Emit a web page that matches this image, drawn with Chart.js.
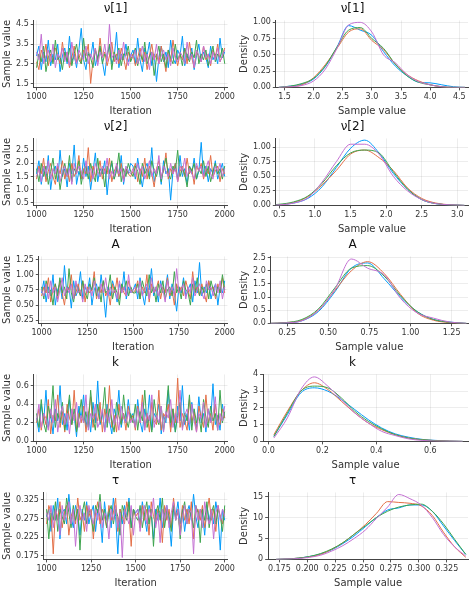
<!DOCTYPE html>
<html>
<head>
<meta charset="utf-8">
<script src="https://cdn.jsdelivr.net/npm/chart.js@4"></script>
<style>
body { margin: 0; background: #fff; }
canvas { position: absolute; }
</style>
</head>
<body>
<script>
const colors = ['#009AFA', '#E36F47', '#3EA44E', '#C371D2']
const titles = ['ν[1]', 'ν[2]', 'A', 'k', 'τ']
const iterStart = 1000, iterStep = 12.5

// trace samples (thinned), 4 chains per parameter
const nu1Trace = [
  [2.9,3.4,2.2,3.1,2.6,3.7,2.4,3.0,2.7,3.5,2.1,2.9,3.3,2.5,3.9,2.6,3.0,2.3,3.2,4.3,2.7,2.2,3.1,2.8,3.6,2.4,2.9,3.3,2.6,1.9,3.0,3.4,2.5,2.8,4.1,2.3,3.0,2.7,3.5,2.6,2.9,
   3.2,2.5,3.8,2.7,2.1,3.3,2.9,3.6,2.4,3.0,1.6,2.8,3.4,2.6,3.1,2.3,3.7,2.8,2.5,3.2,2.9,3.9,2.4,3.0,2.7,3.3,2.2,2.9,3.5,2.6,3.1,2.8,2.3,3.4,2.7,3.0,2.5,3.8,2.8,3.1],
  [2.6,2.2,3.2,2.8,3.5,2.4,3.0,2.6,3.3,2.9,2.5,3.6,2.7,3.1,2.3,2.8,3.4,2.6,3.0,2.5,3.2,2.9,3.5,1.5,2.7,3.3,2.6,3.8,2.8,3.1,2.4,2.9,3.6,2.6,3.0,2.5,3.3,2.8,2.2,3.1,2.7,
   3.0,2.4,2.8,3.3,2.6,3.1,2.2,2.9,3.5,2.7,3.0,2.5,3.4,2.8,2.1,3.2,2.6,3.7,2.9,2.4,3.0,2.7,3.3,2.5,3.6,2.8,2.3,3.1,2.9,2.6,3.4,2.7,3.0,2.4,3.2,2.8,3.5,2.6,2.9,3.3],
  [2.3,3.0,2.6,3.4,2.1,2.8,3.2,2.5,3.7,2.7,2.9,2.2,3.1,2.6,3.3,2.4,3.0,3.5,2.7,2.5,3.8,2.6,3.0,2.8,2.3,3.2,2.7,3.4,2.5,3.0,2.8,3.5,2.2,3.1,2.7,3.3,2.4,3.0,2.9,3.4,2.6,
   2.9,3.3,2.4,3.0,2.7,3.6,2.5,2.9,3.1,1.9,2.8,3.4,2.6,3.0,2.3,3.2,2.8,2.5,3.5,2.7,3.0,2.4,3.3,2.9,2.6,3.1,2.8,3.7,2.5,3.0,2.7,3.2,2.4,2.9,3.4,2.6,3.0,2.8,3.3,2.5],
  [3.1,2.7,4.0,2.5,2.9,3.2,2.6,3.5,2.3,3.0,2.8,3.3,2.6,3.1,2.4,3.6,2.8,2.5,3.2,2.9,2.7,3.4,2.5,3.0,2.7,3.3,2.4,3.1,2.8,3.5,2.6,4.5,2.8,3.0,2.5,3.2,2.7,3.6,2.8,2.4,3.0,
   2.8,3.2,2.5,2.9,3.4,2.6,3.0,2.2,3.1,2.7,3.5,2.5,2.9,3.2,2.7,3.0,2.4,3.3,2.8,2.6,3.1,2.9,2.5,3.6,2.7,3.0,2.3,3.2,2.9,2.6,3.4,2.8,3.0,2.5,3.1,2.7,3.3,2.6,2.9,3.2]
]
const nu2Trace = [
  [1.6,2.1,1.2,1.8,1.4,2.3,1.0,1.7,1.9,1.3,2.5,1.5,1.8,1.1,2.0,1.6,2.7,1.2,1.7,1.4,2.2,1.5,1.9,1.0,1.7,2.4,1.3,1.8,1.6,2.1,0.8,1.7,2.0,1.4,1.9,1.5,2.3,1.2,1.8,1.6,2.0,
   1.9,1.4,2.2,1.6,1.1,1.8,2.0,1.5,2.6,1.3,1.7,1.9,1.2,2.1,1.6,1.8,0.6,1.7,2.0,1.4,2.3,1.5,1.8,1.2,1.9,1.6,2.2,1.4,1.7,2.8,1.5,1.9,1.3,1.8,1.6,2.1,1.4,1.7,2.0,1.5],
  [1.4,1.9,1.6,2.2,1.3,1.7,2.0,1.5,1.2,1.9,1.6,2.1,1.4,1.8,1.3,2.0,1.5,1.7,2.3,1.4,1.8,1.6,2.6,1.3,1.9,1.5,1.7,2.1,1.4,1.8,1.6,2.2,1.3,1.7,1.9,1.5,2.0,1.4,1.8,1.6,1.5,
   1.7,2.0,1.3,1.8,1.5,2.2,1.4,1.9,1.6,1.1,1.8,2.1,1.5,1.7,2.4,1.4,1.8,1.6,2.0,1.3,1.7,1.9,1.5,2.2,1.6,1.8,1.2,1.9,1.7,2.0,1.4,1.8,1.6,2.3,1.5,1.7,1.9,1.3,1.8,1.6],
  [1.8,1.3,2.0,1.5,1.9,1.2,1.7,2.2,1.4,1.8,1.0,1.6,2.0,1.5,2.3,1.3,1.8,1.6,2.1,1.2,1.7,1.9,1.4,2.0,1.6,1.3,2.2,1.5,1.8,1.1,1.9,1.6,2.1,1.4,1.7,2.4,1.3,1.8,1.5,2.0,1.7,
   1.5,1.9,1.7,1.2,2.0,1.6,1.8,1.4,2.1,1.7,1.5,1.9,1.3,1.8,2.2,1.6,1.4,1.9,1.7,2.5,1.5,1.8,1.6,1.1,1.9,1.7,2.0,1.4,1.8,1.6,2.1,1.5,1.9,1.3,1.7,2.0,1.6,1.8,1.4,1.9],
  [1.5,1.8,1.3,1.9,1.6,2.1,1.4,1.8,1.6,2.0,1.3,1.7,1.9,1.5,1.8,1.2,2.0,1.6,1.9,1.7,1.4,2.1,1.6,1.8,1.4,2.0,1.7,1.5,1.9,1.6,2.2,1.4,1.7,1.5,2.0,1.6,1.8,1.3,1.9,1.7,1.6,
   1.8,1.5,2.0,1.6,1.9,1.4,1.7,2.1,1.5,1.8,1.6,2.3,1.4,1.9,1.7,1.5,2.0,1.6,1.8,1.3,1.9,1.7,2.2,1.5,1.8,1.6,1.4,2.0,1.7,1.9,1.5,1.8,2.1,1.6,1.4,1.9,1.7,2.0,1.5,1.8]
]
const aTrace = [
  [0.7,0.9,0.55,0.8,0.65,1.0,0.5,0.75,0.85,0.6,1.15,0.7,0.8,0.45,0.9,0.65,0.75,1.05,0.6,0.8,0.7,0.95,0.5,0.75,0.85,0.6,1.0,0.7,0.3,0.8,0.65,0.9,0.75,0.55,0.85,0.7,1.05,0.6,0.8,0.7,0.75,
   0.85,0.6,0.95,0.7,0.5,0.8,0.75,1.1,0.65,0.8,0.55,0.9,0.7,0.75,1.0,0.6,0.85,0.7,0.4,0.8,0.7,0.95,0.65,0.75,0.85,0.55,0.9,0.7,1.2,0.65,0.8,0.7,0.9,0.6,0.75,0.85,0.5,0.8,0.7,0.9],
  [0.65,0.8,0.7,0.95,0.55,0.75,0.85,0.6,0.9,0.7,0.5,0.8,0.75,1.0,0.6,0.7,0.85,0.65,0.9,0.55,0.8,0.7,0.75,1.05,0.6,0.8,0.7,0.9,0.65,0.75,0.5,0.85,0.7,0.95,0.6,0.8,0.7,0.65,0.9,0.75,0.7,
   0.75,0.9,0.6,0.8,0.7,1.0,0.55,0.85,0.7,0.75,0.9,0.6,0.8,0.7,0.95,0.65,0.75,0.5,0.85,0.7,0.8,0.65,0.9,0.75,0.6,1.05,0.7,0.8,0.65,0.85,0.7,0.55,0.9,0.75,0.8,0.6,0.85,0.7,0.95,0.7],
  [0.8,0.6,0.9,0.7,0.75,0.5,0.85,0.65,0.95,0.7,0.8,0.6,1.1,0.7,0.55,0.85,0.75,0.65,0.9,0.7,0.6,0.85,0.75,0.95,0.65,0.8,0.55,0.9,0.7,0.75,1.0,0.6,0.8,0.7,0.5,0.85,0.75,0.9,0.65,0.8,0.7,
   0.7,0.85,0.6,0.9,0.75,0.65,1.0,0.7,0.8,0.55,0.85,0.7,0.9,0.6,0.75,0.8,0.65,1.05,0.7,0.8,0.6,0.9,0.75,0.7,0.5,0.85,0.7,0.95,0.65,0.8,0.7,0.85,0.6,0.9,0.75,0.65,0.8,0.7,1.0,0.75],
  [0.75,0.65,0.85,0.6,0.9,0.7,0.8,0.55,0.75,0.95,0.65,0.8,0.7,0.85,0.6,0.9,0.7,0.75,0.55,0.85,0.7,0.8,0.65,0.9,0.75,0.6,0.85,0.7,0.95,0.65,0.8,0.7,0.75,0.6,0.9,0.7,0.8,0.65,1.0,0.7,0.75,
   0.8,0.7,0.9,0.65,0.75,0.85,0.6,0.95,0.7,0.8,0.65,0.85,0.75,0.55,0.9,0.7,0.8,0.65,1.1,0.7,0.75,0.85,0.6,0.8,0.7,0.95,0.65,0.75,0.85,0.7,0.6,0.9,0.75,0.8,0.65,0.85,0.7,0.9,0.6,0.8]
]
const kTrace = [
  [0.25,0.1,0.4,0.2,0.55,0.15,0.3,0.08,0.35,0.22,0.6,0.18,0.3,0.12,0.45,0.2,0.28,0.05,0.38,0.25,0.5,0.15,0.32,0.1,0.42,0.2,0.65,0.18,0.3,0.12,0.4,0.22,0.08,0.35,0.25,0.55,0.15,0.3,0.2,0.45,0.25,
   0.3,0.15,0.45,0.22,0.1,0.35,0.2,0.5,0.12,0.3,0.25,0.4,0.08,0.28,0.2,0.55,0.15,0.32,0.1,0.38,0.22,0.6,0.18,0.3,0.12,0.42,0.25,0.15,0.48,0.2,0.3,0.1,0.35,0.22,0.62,0.18,0.28,0.12,0.4,0.25],
  [0.2,0.35,0.12,0.3,0.18,0.45,0.08,0.28,0.22,0.5,0.15,0.32,0.1,0.4,0.25,0.18,0.55,0.12,0.3,0.2,0.38,0.1,0.28,0.48,0.15,0.3,0.22,0.42,0.1,0.35,0.2,0.6,0.15,0.28,0.1,0.4,0.2,0.3,0.12,0.38,0.22,
   0.28,0.12,0.38,0.2,0.5,0.15,0.3,0.1,0.42,0.22,0.18,0.55,0.12,0.3,0.25,0.4,0.1,0.35,0.2,0.68,0.15,0.3,0.22,0.12,0.45,0.2,0.32,0.1,0.38,0.25,0.15,0.5,0.2,0.3,0.12,0.4,0.22,0.18,0.35,0.25],
  [0.3,0.15,0.45,0.2,0.1,0.38,0.25,0.6,0.15,0.3,0.2,0.42,0.12,0.28,0.5,0.18,0.35,0.1,0.25,0.45,0.2,0.32,0.15,0.55,0.25,0.12,0.4,0.2,0.3,0.58,0.15,0.35,0.22,0.1,0.42,0.28,0.18,0.5,0.25,0.15,0.3,
   0.2,0.4,0.12,0.32,0.22,0.55,0.15,0.28,0.1,0.45,0.25,0.18,0.38,0.12,0.3,0.6,0.2,0.35,0.1,0.28,0.42,0.15,0.3,0.22,0.5,0.12,0.35,0.2,0.28,0.1,0.45,0.25,0.15,0.38,0.22,0.3,0.12,0.55,0.2,0.32],
  [0.22,0.4,0.15,0.3,0.25,0.12,0.35,0.2,0.45,0.1,0.28,0.38,0.18,0.3,0.08,0.35,0.22,0.42,0.15,0.28,0.2,0.5,0.12,0.3,0.25,0.4,0.15,0.22,0.35,0.1,0.3,0.2,0.45,0.18,0.28,0.12,0.38,0.25,0.2,0.32,0.2,
   0.25,0.15,0.35,0.2,0.42,0.12,0.3,0.22,0.5,0.15,0.28,0.2,0.38,0.1,0.32,0.25,0.45,0.15,0.3,0.2,0.55,0.12,0.28,0.35,0.18,0.4,0.22,0.1,0.3,0.25,0.42,0.15,0.35,0.2,0.28,0.48,0.12,0.3,0.22,0.38]
]
const tauTrace = [
  [0.28,0.3,0.24,0.31,0.27,0.33,0.22,0.29,0.3,0.26,0.34,0.28,0.25,0.31,0.29,0.23,0.3,0.27,0.32,0.26,0.29,0.31,0.24,0.3,0.28,0.21,0.32,0.27,0.3,0.25,0.33,0.28,0.18,0.3,0.26,0.31,0.28,0.33,0.25,0.3,0.29,
   0.3,0.26,0.32,0.28,0.24,0.31,0.29,0.22,0.3,0.27,0.33,0.25,0.29,0.31,0.27,0.2,0.3,0.28,0.32,0.26,0.3,0.24,0.29,0.31,0.27,0.34,0.28,0.25,0.3,0.29,0.23,0.31,0.27,0.3,0.26,0.32,0.28,0.19,0.3,0.27],
  [0.26,0.31,0.29,0.18,0.3,0.27,0.32,0.25,0.29,0.31,0.23,0.28,0.3,0.26,0.33,0.27,0.29,0.24,0.31,0.28,0.3,0.22,0.29,0.32,0.26,0.3,0.28,0.25,0.31,0.27,0.29,0.33,0.24,0.3,0.28,0.26,0.32,0.29,0.2,0.3,0.28,
   0.29,0.25,0.31,0.27,0.3,0.23,0.32,0.28,0.26,0.3,0.29,0.21,0.31,0.27,0.3,0.25,0.33,0.28,0.29,0.24,0.31,0.27,0.3,0.26,0.32,0.22,0.29,0.3,0.27,0.31,0.25,0.29,0.33,0.27,0.3,0.24,0.31,0.28,0.26,0.3],
  [0.3,0.22,0.29,0.27,0.32,0.24,0.3,0.28,0.26,0.33,0.29,0.25,0.31,0.27,0.3,0.19,0.29,0.32,0.26,0.3,0.28,0.24,0.31,0.29,0.34,0.27,0.3,0.25,0.29,0.31,0.26,0.3,0.28,0.23,0.31,0.29,0.27,0.32,0.25,0.3,0.28,
   0.27,0.31,0.25,0.29,0.32,0.26,0.3,0.2,0.29,0.31,0.27,0.33,0.25,0.3,0.28,0.24,0.31,0.27,0.3,0.22,0.29,0.32,0.26,0.3,0.28,0.25,0.31,0.29,0.21,0.3,0.27,0.32,0.25,0.29,0.31,0.26,0.3,0.28,0.24,0.31],
  [0.29,0.27,0.31,0.25,0.3,0.28,0.23,0.31,0.27,0.29,0.32,0.26,0.3,0.2,0.28,0.31,0.27,0.29,0.24,0.31,0.28,0.26,0.3,0.27,0.32,0.25,0.29,0.28,0.22,0.3,0.27,0.31,0.25,0.29,0.17,0.3,0.28,0.26,0.31,0.23,0.29,
   0.3,0.24,0.29,0.31,0.26,0.3,0.28,0.33,0.25,0.29,0.21,0.3,0.27,0.31,0.25,0.29,0.32,0.27,0.3,0.23,0.28,0.31,0.26,0.3,0.29,0.18,0.31,0.27,0.3,0.25,0.32,0.28,0.26,0.3,0.22,0.29,0.31,0.27,0.3,0.28]
]

// density curves
const nu1X = [1.4,1.6,1.8,2.0,2.2,2.4,2.6,2.8,3.0,3.2,3.4,3.6,3.8,4.0,4.2,4.4,4.6]
const nu1Dens = [
  [0,0.02,0.05,0.13,0.32,0.62,0.95,0.88,0.8,0.55,0.33,0.18,0.08,0.07,0.04,0.01,0],
  [0,0.01,0.04,0.15,0.35,0.6,0.85,0.9,0.72,0.58,0.36,0.2,0.1,0.04,0.01,0,0],
  [0,0.02,0.06,0.14,0.33,0.62,0.88,0.92,0.75,0.6,0.36,0.18,0.08,0.04,0.01,0,0],
  [0,0.01,0.03,0.1,0.28,0.6,0.96,1.0,0.85,0.5,0.38,0.2,0.09,0.04,0.01,0,0]
]
const nu2X = [0.3,0.5,0.7,0.9,1.1,1.3,1.5,1.7,1.9,2.1,2.3,2.5,2.7,2.9,3.1]
const nu2Dens = [
  [0,0.01,0.04,0.12,0.32,0.65,0.98,1.12,0.9,0.55,0.28,0.1,0.03,0.01,0],
  [0,0.01,0.05,0.15,0.35,0.6,0.88,0.95,0.82,0.6,0.3,0.12,0.04,0.01,0],
  [0,0.02,0.06,0.16,0.38,0.68,0.9,0.95,0.9,0.58,0.28,0.1,0.03,0.01,0],
  [0,0.01,0.04,0.13,0.4,0.75,1.05,1.05,0.88,0.5,0.25,0.1,0.03,0.01,0]
]
const aX = [0.14,0.24,0.34,0.44,0.54,0.64,0.74,0.84,0.94,1.04,1.14,1.24,1.34]
const aDens = [
  [0,0.02,0.1,0.45,1.2,2.1,2.3,1.7,1.0,0.45,0.15,0.05,0],
  [0,0.03,0.12,0.5,1.25,2.0,2.35,1.9,1.1,0.4,0.12,0.03,0],
  [0,0.03,0.15,0.55,1.35,2.1,2.2,1.8,1.05,0.45,0.15,0.04,0],
  [0,0.02,0.1,0.5,1.3,2.45,2.1,1.85,0.95,0.4,0.2,0.05,0]
]
const kX = [0.02,0.07,0.12,0.17,0.22,0.27,0.32,0.37,0.42,0.47,0.52,0.57,0.62,0.67,0.72]
const kDens = [
  [0.3,1.6,2.9,3.2,3.0,2.5,1.9,1.3,0.8,0.45,0.25,0.12,0.06,0.02,0],
  [0.4,1.8,3.0,3.5,3.1,2.4,1.7,1.1,0.7,0.4,0.2,0.1,0.05,0.02,0],
  [0.3,1.7,3.0,3.3,3.2,2.6,1.8,1.2,0.75,0.4,0.2,0.1,0.04,0.01,0],
  [0.2,1.4,3.1,3.85,3.3,2.5,1.7,1.1,0.6,0.35,0.15,0.06,0.02,0.01,0]
]
const tauX = [0.172,0.182,0.192,0.202,0.212,0.222,0.232,0.242,0.252,0.262,0.272,0.282,0.292,0.302,0.312,0.322,0.332,0.342]
const tauDens = [
  [0,0.1,0.3,0.7,1.3,2.3,3.8,5.6,7.8,10,11.8,12.3,13,13,11.5,8,4.5,1.2],
  [0,0.1,0.3,0.6,1.2,2.4,4,6,8.3,11,13.8,13.6,13.4,12.8,10.5,6.5,3,0.5],
  [0,0.1,0.3,0.7,1.4,2.5,4,6,8,10,11.5,12.5,13,13.2,11.5,8.5,4.8,1.2],
  [0,0.1,0.2,0.5,1.0,2.0,3.3,5,7,9.8,12.5,15.5,14.5,13,10,6,3,0.8]
]

// axis settings per row: [min, max, step]
const traceY = [[1.3,4.7,0.5],[0.4,2.95,0.5],[0.2,1.3,0.25],[0,0.72,0.2],[0.165,0.345,0.025]]
const densX = [[1.35,4.65,0.5],[0.45,3.15,0.5],[0.15,1.35,0.25],[-0.02,0.74,0.2],[0.165,0.344,0.025]]
const densY = [[0,1.03,0.25],[0,1.15,0.25],[0,2.55,0.5],[0,4,1],[0,16,5]]

const traces = [nu1Trace, nu2Trace, aTrace, kTrace, tauTrace]
const densXs = [nu1X, nu2X, aX, kX, tauX]
const dens = [nu1Dens, nu2Dens, aDens, kDens, tauDens]

Chart.defaults.font.family = 'DejaVu Sans'
Chart.defaults.color = '#333'
Chart.defaults.animation = false

function axis(range, title, labelFn) {
    return {
        type: 'linear',
        min: range[0], max: range[1],
        afterBuildTicks: (ax) => {
            const t = []
            const s = range[2]
            let v = Math.ceil((range[0] - 1e-9) / s) * s
            for (; v <= range[1] + 1e-9; v += s) t.push({ value: +v.toFixed(4) })
            ax.ticks = t
        },
        grid: { color: 'rgba(0,0,0,0.07)', drawTicks: true, tickLength: 3, tickColor: '#555' },
        border: { color: '#444', width: 1 },
        ticks: { font: { size: 8 }, padding: 2, maxRotation: 0, callback: labelFn },
        title: { display: true, text: title, font: { size: 10 }, padding: 1 }
    }
}

function makeCanvas(x, y) {
    const c = document.createElement('canvas')
    c.width = 237; c.height = 118
    c.style.left = x + 'px'; c.style.top = y + 'px'
    c.style.width = '237px'; c.style.height = '118px'
    document.body.appendChild(c)
    return c
}

function plotOpts(title, xAx, yAx) {
    return {
        responsive: false,
        plugins: {
            legend: { display: false },
            tooltip: { enabled: false },
            title: { display: true, text: title, font: { size: 12, weight: 'normal' }, color: '#111', padding: { top: 2, bottom: 4 } }
        },
        layout: { padding: { right: 6, left: 0 } },
        elements: { point: { radius: 0 } },
        scales: { x: xAx, y: yAx }
    }
}

for (let r = 0; r < 5; r++) {
    const top = r * 118
    const ystep = traceY[r][2]
    const yd = ystep < 0.1 ? 3 : ystep === 0.25 ? 2 : 1
    new Chart(makeCanvas(0, top), {
        type: 'line',
        data: {
            datasets: traces[r].map((chain, c) => ({
                data: chain.map((v, i) => ({ x: iterStart + i * iterStep, y: v })),
                borderColor: colors[c], borderWidth: 1, tension: 0, order: 3 - c
            }))
        },
        options: plotOpts(titles[r],
            axis([985, 2015, 250], 'Iteration', (v) => v.toFixed(0)),
            axis(traceY[r], 'Sample value', (v) => v.toFixed(yd)))
    })

    const xs = densX[r][2]
    const xd = xs === 0.025 ? 3 : xs === 0.25 ? 2 : 1
    const ys = densY[r][2]
    const ydd = ys === 0.25 ? 2 : ys === 0.5 ? 1 : 0
    new Chart(makeCanvas(237, top), {
        type: 'line',
        data: {
            datasets: dens[r].map((d, c) => ({
                data: d.map((v, i) => ({ x: densXs[r][i], y: v })),
                borderColor: colors[c], borderWidth: 1, tension: 0.4,
                cubicInterpolationMode: 'monotone', order: 3 - c
            }))
        },
        options: plotOpts(titles[r],
            axis(densX[r], 'Sample value', (v) => v.toFixed(xd)),
            axis(densY[r], 'Density', (v) => v.toFixed(ydd)))
    })
}
</script>
</body>
</html>
